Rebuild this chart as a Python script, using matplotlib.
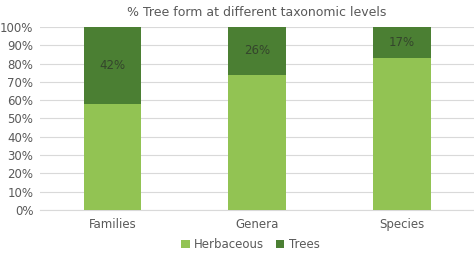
import matplotlib.pyplot as plt
import numpy as np

categories = ['Families', 'Genera', 'Species']
herbaceous = [58, 74, 83]
trees = [42, 26, 17]
tree_labels = ['42%', '26%', '17%']

fig, ax = plt.subplots(figsize=(4.74, 2.57), dpi=100)
fig.subplots_adjust(left=0.085, right=1.0, top=0.895, bottom=0.183)

x = np.arange(len(categories))
ax.bar(x, herbaceous, width=0.4, color='#92c353', label='Herbaceous', zorder=3)
ax.bar(x, trees, width=0.4, bottom=herbaceous, color='#4b7f33', label='Trees', zorder=3)

for i in range(len(categories)):
    ax.text(x[i], herbaceous[i] + trees[i] / 2, tree_labels[i], ha='center', va='center',
            fontsize=8.5, color='#34452c', zorder=4)

ax.set_xlim(-0.5, 2.5)
ax.set_ylim(0, 100)
ax.set_yticks(range(0, 101, 10))
ax.set_yticklabels([f'{v}%' for v in range(0, 101, 10)])
ax.set_xticks(x)
ax.set_xticklabels(categories)
ax.tick_params(axis='both', length=0, labelsize=8.5, colors='#595959')
ax.tick_params(axis='y', pad=5)
ax.tick_params(axis='x', pad=6)
ax.grid(axis='y', color='#d9d9d9', linewidth=0.8, zorder=0)
for s in ['top', 'right', 'left']:
    ax.spines[s].set_visible(False)
ax.spines['bottom'].set_color('#d9d9d9')

ax.set_title('% Tree form at different taxonomic levels', fontsize=9, color='#595959', pad=8)
ax.legend(loc='upper center', bbox_to_anchor=(0.485, -0.095), ncol=2, frameon=False,
          fontsize=8.5, labelcolor='#595959', handlelength=0.7, handleheight=0.7,
          handletextpad=0.4, columnspacing=1.0)

plt.savefig('out.png', dpi=100)
